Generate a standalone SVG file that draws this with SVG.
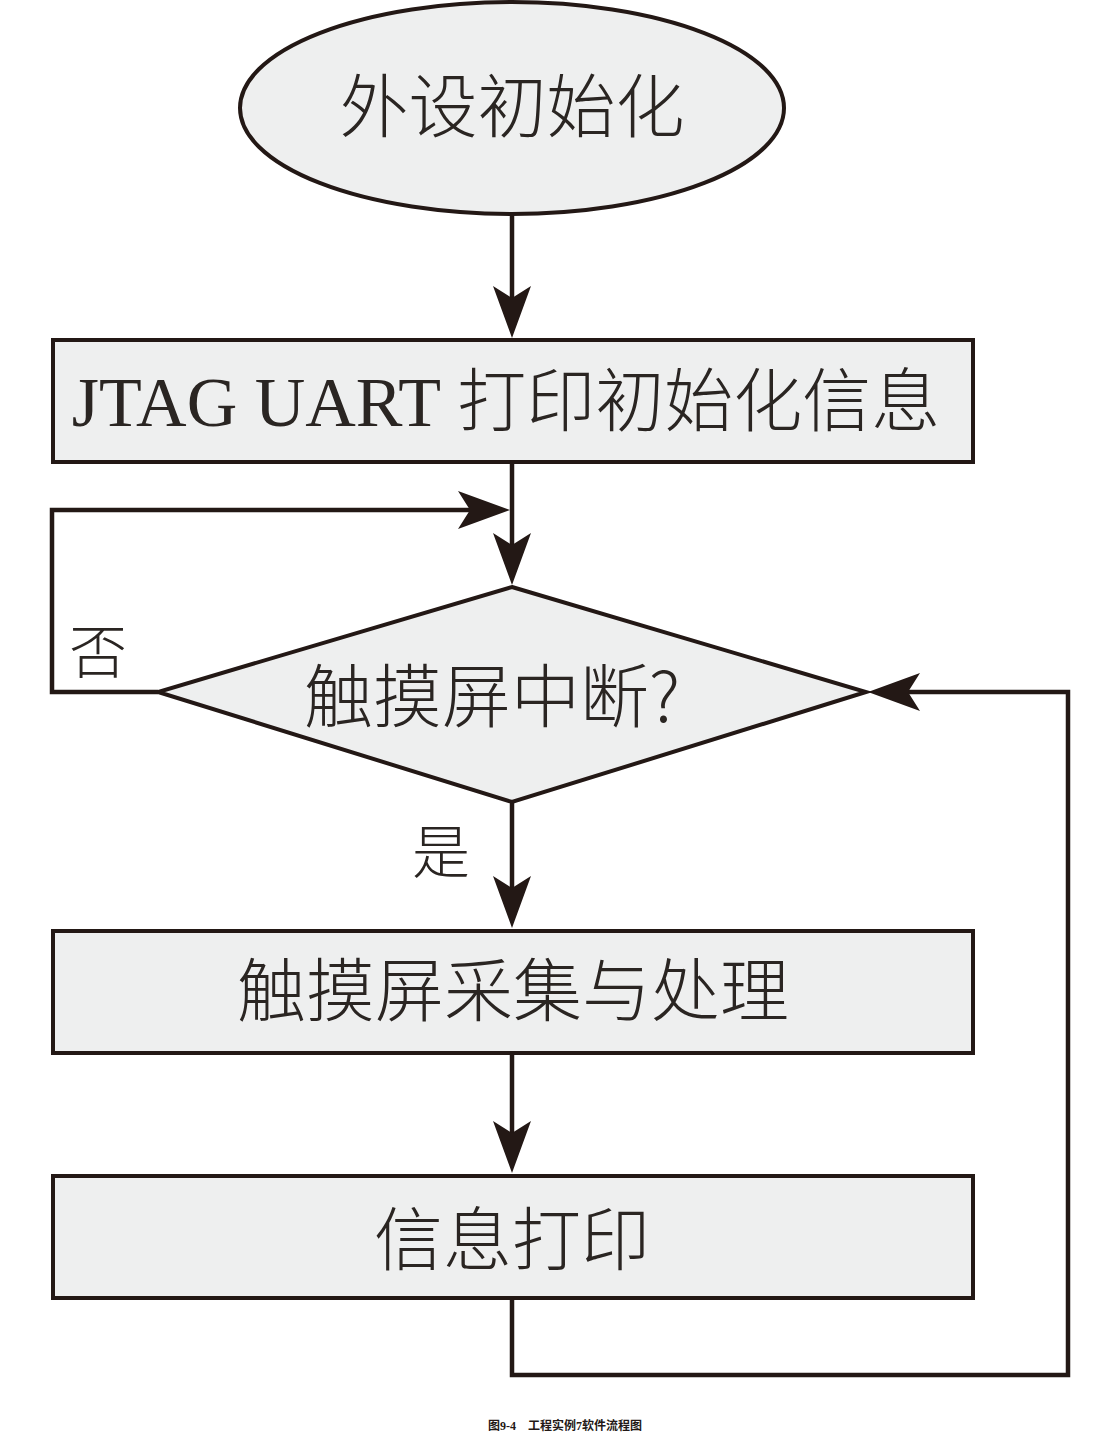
<svg xmlns="http://www.w3.org/2000/svg" width="1117" height="1451" viewBox="0 0 1117 1451">
<style>
.shape{fill:#eeefef;stroke:#231815;stroke-width:4}
.conn{fill:none;stroke:#231815;stroke-width:4.5}
.t{font-family:"Noto Sans CJK SC","Noto Sans",sans-serif;font-size:69px;font-weight:300;fill:#2a2522;text-anchor:middle}
.lat{font-family:"Liberation Serif",serif;font-weight:normal}
.lbl{font-family:"Noto Sans CJK SC",sans-serif;font-size:58px;font-weight:300;fill:#2a2522;text-anchor:middle}
.cap{font-family:"Liberation Serif","Noto Sans CJK SC",serif;font-size:12px;font-weight:bold;fill:#231815;text-anchor:middle}
</style>
<defs>
<marker id="arr" viewBox="-54 -21 56 42" markerWidth="56" markerHeight="42" refX="-10" refY="0" orient="auto" markerUnits="userSpaceOnUse">
<path d="M0,0 L-52,-19 L-40,0 L-52,19 Z" fill="#231815"/>
</marker>
</defs>
<rect width="1117" height="1451" fill="#ffffff"/>
<g id="connectors">
<path class="conn" d="M512,215 V328" marker-end="url(#arr)"/>
<path class="conn" d="M512,462 V575" marker-end="url(#arr)"/>
<path class="conn" d="M158,692 H52 V510 H500" marker-end="url(#arr)"/>
<path class="conn" d="M512,802 V918" marker-end="url(#arr)"/>
<path class="conn" d="M512,1053 V1163" marker-end="url(#arr)"/>
<path class="conn" d="M512,1298 V1375 H1068 V692 H878" marker-end="url(#arr)"/>
<text class="lbl" x="98" y="673">否</text>
<text class="lbl" x="441" y="873">是</text>
</g>
<g id="start">
<ellipse class="shape" cx="512" cy="108" rx="272" ry="106"/>
<text class="t" x="512" y="132">外设初始化</text>
</g>
<g id="init">
<rect class="shape" x="53" y="340" width="920" height="122"/>
<text class="t" x="506" y="426"><tspan class="lat" font-size="70">JTAG UART </tspan>打印初始化信息</text>
</g>
<g id="decision">
<polygon class="shape" points="512,587 866,692 512,802 158,692"/>
<text class="t" x="492" y="722">触摸屏中断?</text>
</g>
<g id="process">
<rect class="shape" x="53" y="931" width="920" height="122"/>
<text class="t" x="513" y="1016">触摸屏采集与处理</text>
</g>
<g id="print">
<rect class="shape" x="53" y="1176" width="920" height="122"/>
<text class="t" x="512" y="1265">信息打印</text>
</g>
<text class="cap" x="565" y="1430">图9-4　工程实例7软件流程图</text>
</svg>
